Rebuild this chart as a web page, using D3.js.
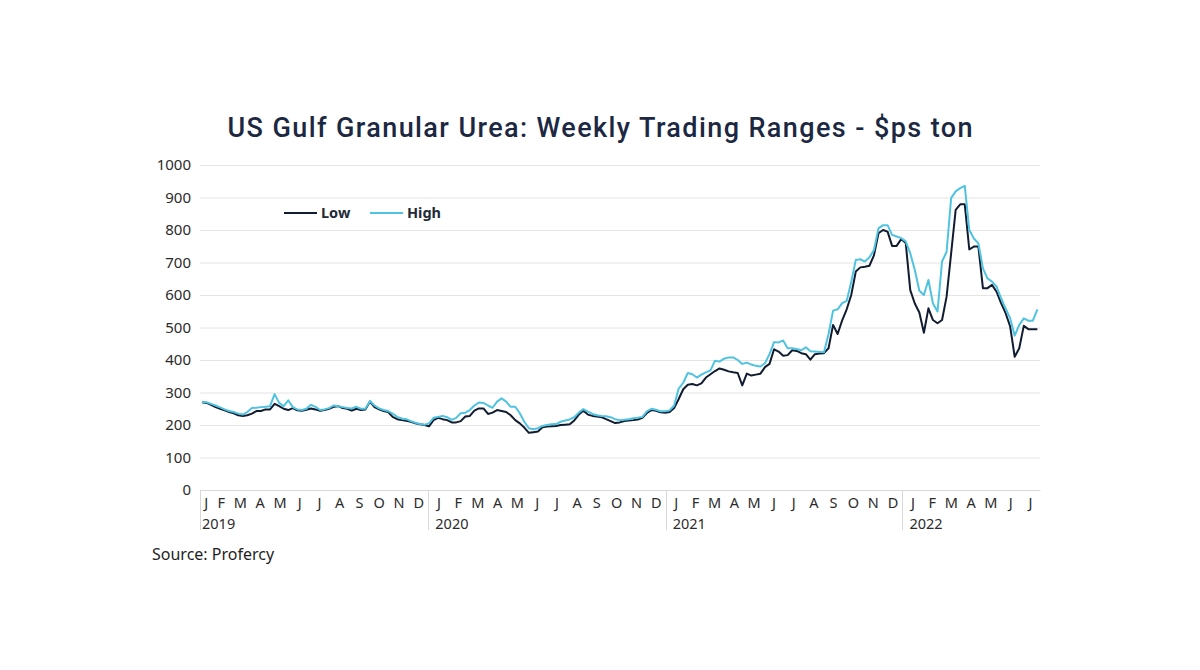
<!DOCTYPE html>
<html>
<head>
<meta charset="utf-8">
<script src="https://cdn.jsdelivr.net/npm/d3@7"></script>
<style>
  body { margin: 0; background: #fff; }
  svg { display: block; }
</style>
</head>
<body>
<div id="chart"></div>
<script>
const title = 'US Gulf Granular Urea: Weekly Trading Ranges - $ps ton'
const source = 'Source: Profercy'

// weekly assessments, Thursdays, from 17 Jan 2019 to 28 Jul 2022
const firstWeek = new Date(2019, 0, 17)
const low = [
  270, 268, 262, 255, 250, 245, 240, 236, 230, 228,
  230, 235, 243, 243, 248, 248, 265, 258, 250, 246,
  252, 245, 244, 247, 251, 248, 244, 246, 250, 256,
  258, 252, 250, 244, 250, 246, 248, 272, 255, 248,
  243, 240, 225, 218, 215, 213, 210, 205, 202, 200,
  196, 215, 222, 218, 215, 208, 208, 212, 226, 228,
  244, 251, 251, 234, 238, 246, 243, 240, 230, 215,
  205, 192, 176, 178, 180, 193, 195, 196, 197, 200,
  201, 202, 214, 232, 244, 232, 228, 226, 224, 218,
  212, 206, 208, 212, 214, 215, 217, 222, 237, 246,
  244, 239, 238, 240, 252, 280, 310, 324, 326, 322,
  328, 346, 356, 366, 374, 370, 365, 362, 360, 322,
  358, 352, 355, 358, 378, 388, 433, 426, 413, 415,
  430, 428, 421, 418, 401, 418, 420, 421, 436, 508,
  480, 522, 556, 600, 672, 685, 687, 690, 722, 790,
  800, 795, 751, 751, 772, 760, 615, 574, 546, 484,
  559, 523, 513, 523, 595, 728, 862, 879, 879, 740,
  749, 749, 621, 621, 631, 610, 575, 544, 503, 410,
  436, 505, 495, 495, 495
]
const high = [
  270, 270, 265, 260, 254, 248, 243, 240, 235, 232,
  240, 252, 253, 255, 256, 258, 295, 268, 258, 276,
  255, 248, 246, 250, 262, 256, 246, 248, 252, 260,
  258, 255, 252, 251, 256, 250, 250, 274, 260, 251,
  246, 243, 235, 225, 220, 218, 212, 207, 203, 201,
  205, 222, 225, 228, 224, 216, 222, 236, 238, 246,
  260, 269, 268, 260, 253, 272, 282, 272, 256, 256,
  236, 210, 190, 187, 190, 197, 200, 202, 203, 210,
  214, 217, 224, 238, 249, 241, 234, 230, 228, 227,
  224, 218, 215, 216, 218, 221, 222, 225, 242, 250,
  247, 242, 242, 245, 260, 312, 330, 360, 356, 346,
  355, 362, 368, 398, 395, 404, 408, 408, 400, 388,
  392, 386, 382, 380, 390, 418, 455, 454, 460, 436,
  436, 434, 430, 439, 427, 426, 425, 424, 480, 552,
  556, 575, 582, 640, 708, 710, 703, 716, 738, 805,
  815, 815, 785, 780, 775, 765, 728, 677, 613, 600,
  646, 574, 549, 703, 733, 898, 919, 929, 936, 800,
  774, 759, 682, 651, 641, 626, 590, 559, 528, 475,
  508, 528, 521, 521, 556
]
const yTicks = [0, 100, 200, 300, 400, 500, 600, 700, 800, 900, 1000]
const monthLetters = ['J', 'F', 'M', 'A', 'M', 'J', 'J', 'A', 'S', 'O', 'N', 'D']
const seriesNames = ['Low', 'High']
const seriesColors = ['#121c30', '#4fc3e0']

const width = 1200
const height = 670
const margin = { top: 165, right: 160, bottom: 180, left: 200 }
const font = '"Noto Sans", "Open Sans", sans-serif'

const svg = d3.select('#chart')
  .append('svg')
  .attr('width', width)
  .attr('height', height)
  .style('background', '#fff')

const start = new Date(2019, 0, 14)
const end = new Date(2022, 7, 1)

const x = d3.scaleTime()
  .domain([start, end])
  .range([margin.left, width - margin.right])

const y = d3.scaleLinear()
  .domain([0, 1000])
  .range([height - margin.bottom, margin.top])

const weeks = low.map((d, i) => d3.timeDay.offset(firstWeek, i * 7))

// title
svg.append('text')
  .attr('x', 600)
  .attr('y', 137)
  .attr('text-anchor', 'middle')
  .attr('textLength', 745)
  .attr('lengthAdjust', 'spacing')
  .style('font-family', 'Roboto, sans-serif')
  .style('font-weight', 500)
  .style('font-size', '27px')
  .style('fill', '#1c2842')
  .text(title)

// y axis + gridlines
const yAxis = g => g
  .attr('transform', `translate(${margin.left},0)`)
  .call(d3.axisLeft(y)
    .tickValues(yTicks)
    .tickFormat(d3.format('d'))
    .tickSize(-(width - margin.left - margin.right))
    .tickPadding(9))
  .call(g => g.select('.domain').remove())
  .call(g => g.selectAll('.tick line').attr('stroke', '#e4e4e4'))
  .call(g => g.selectAll('.tick text')
    .style('font-family', font)
    .style('font-size', '15px')
    .style('fill', '#2b2b2b'))

svg.append('g').call(yAxis)

// x axis: month letters centred in each month, years below
const months = d3.timeMonth.range(new Date(2019, 0, 1), end)
const monthMid = months.map(m => {
  const a = m < start ? start : m
  const b = d3.timeMonth.offset(m, 1)
  return new Date((a.getTime() + Math.min(b.getTime(), end.getTime())) / 2)
})

const xAxis = g => g
  .attr('transform', `translate(0,${y(0)})`)
  .call(d3.axisBottom(x)
    .tickValues(monthMid)
    .tickSize(0)
    .tickPadding(8)
    .tickFormat(d => monthLetters[d.getMonth()]))
  .call(g => g.select('.domain').attr('stroke', '#d8d8d8'))
  .call(g => g.selectAll('.tick text')
    .style('font-family', font)
    .style('font-size', '14.5px')
    .style('fill', '#2b2b2b'))

svg.append('g').call(xAxis)

const yearStarts = [start, new Date(2020, 0, 1), new Date(2021, 0, 1), new Date(2022, 0, 1)]
const years = svg.append('g')

years.selectAll('line')
  .data(yearStarts)
  .join('line')
  .attr('x1', d => Math.round(x(d)) + 0.5)
  .attr('x2', d => Math.round(x(d)) + 0.5)
  .attr('y1', y(0))
  .attr('y2', y(0) + 40)
  .attr('stroke', '#d8d8d8')

years.selectAll('text')
  .data(yearStarts)
  .join('text')
  .attr('x', (d, i) => x(d) + (i === 0 ? 2 : 7))
  .attr('y', 529)
  .style('font-family', font)
  .style('font-size', '14.5px')
  .style('fill', '#2b2b2b')
  .text(d => d3.timeFormat('%Y')(d))

// lines
const line = values => d3.line()
  .x((d, i) => x(weeks[i]))
  .y(d => y(d))(values)

svg.append('g')
  .selectAll('path')
  .data([low, high])
  .join('path')
  .attr('d', d => line(d))
  .attr('fill', 'none')
  .attr('stroke', (d, i) => seriesColors[i])
  .attr('stroke-width', 2)
  .attr('stroke-linejoin', 'round')

// legend
const legendX = [284, 370]
const legend = svg.append('g')
  .selectAll('g')
  .data(seriesNames)
  .join('g')
  .attr('transform', (d, i) => `translate(${legendX[i]},213)`)

legend.append('line')
  .attr('x1', 0)
  .attr('x2', 33)
  .attr('stroke', (d, i) => seriesColors[i])
  .attr('stroke-width', 2)

legend.append('text')
  .attr('x', 37)
  .attr('y', 5)
  .style('font-family', font)
  .style('font-weight', 700)
  .style('font-size', '14.5px')
  .style('fill', '#222a38')
  .text(d => d)

// source
svg.append('text')
  .attr('x', 152)
  .attr('y', 560)
  .style('font-family', font)
  .style('font-size', '16px')
  .style('fill', '#1e1e1e')
  .text(source)
</script>
</body>
</html>
